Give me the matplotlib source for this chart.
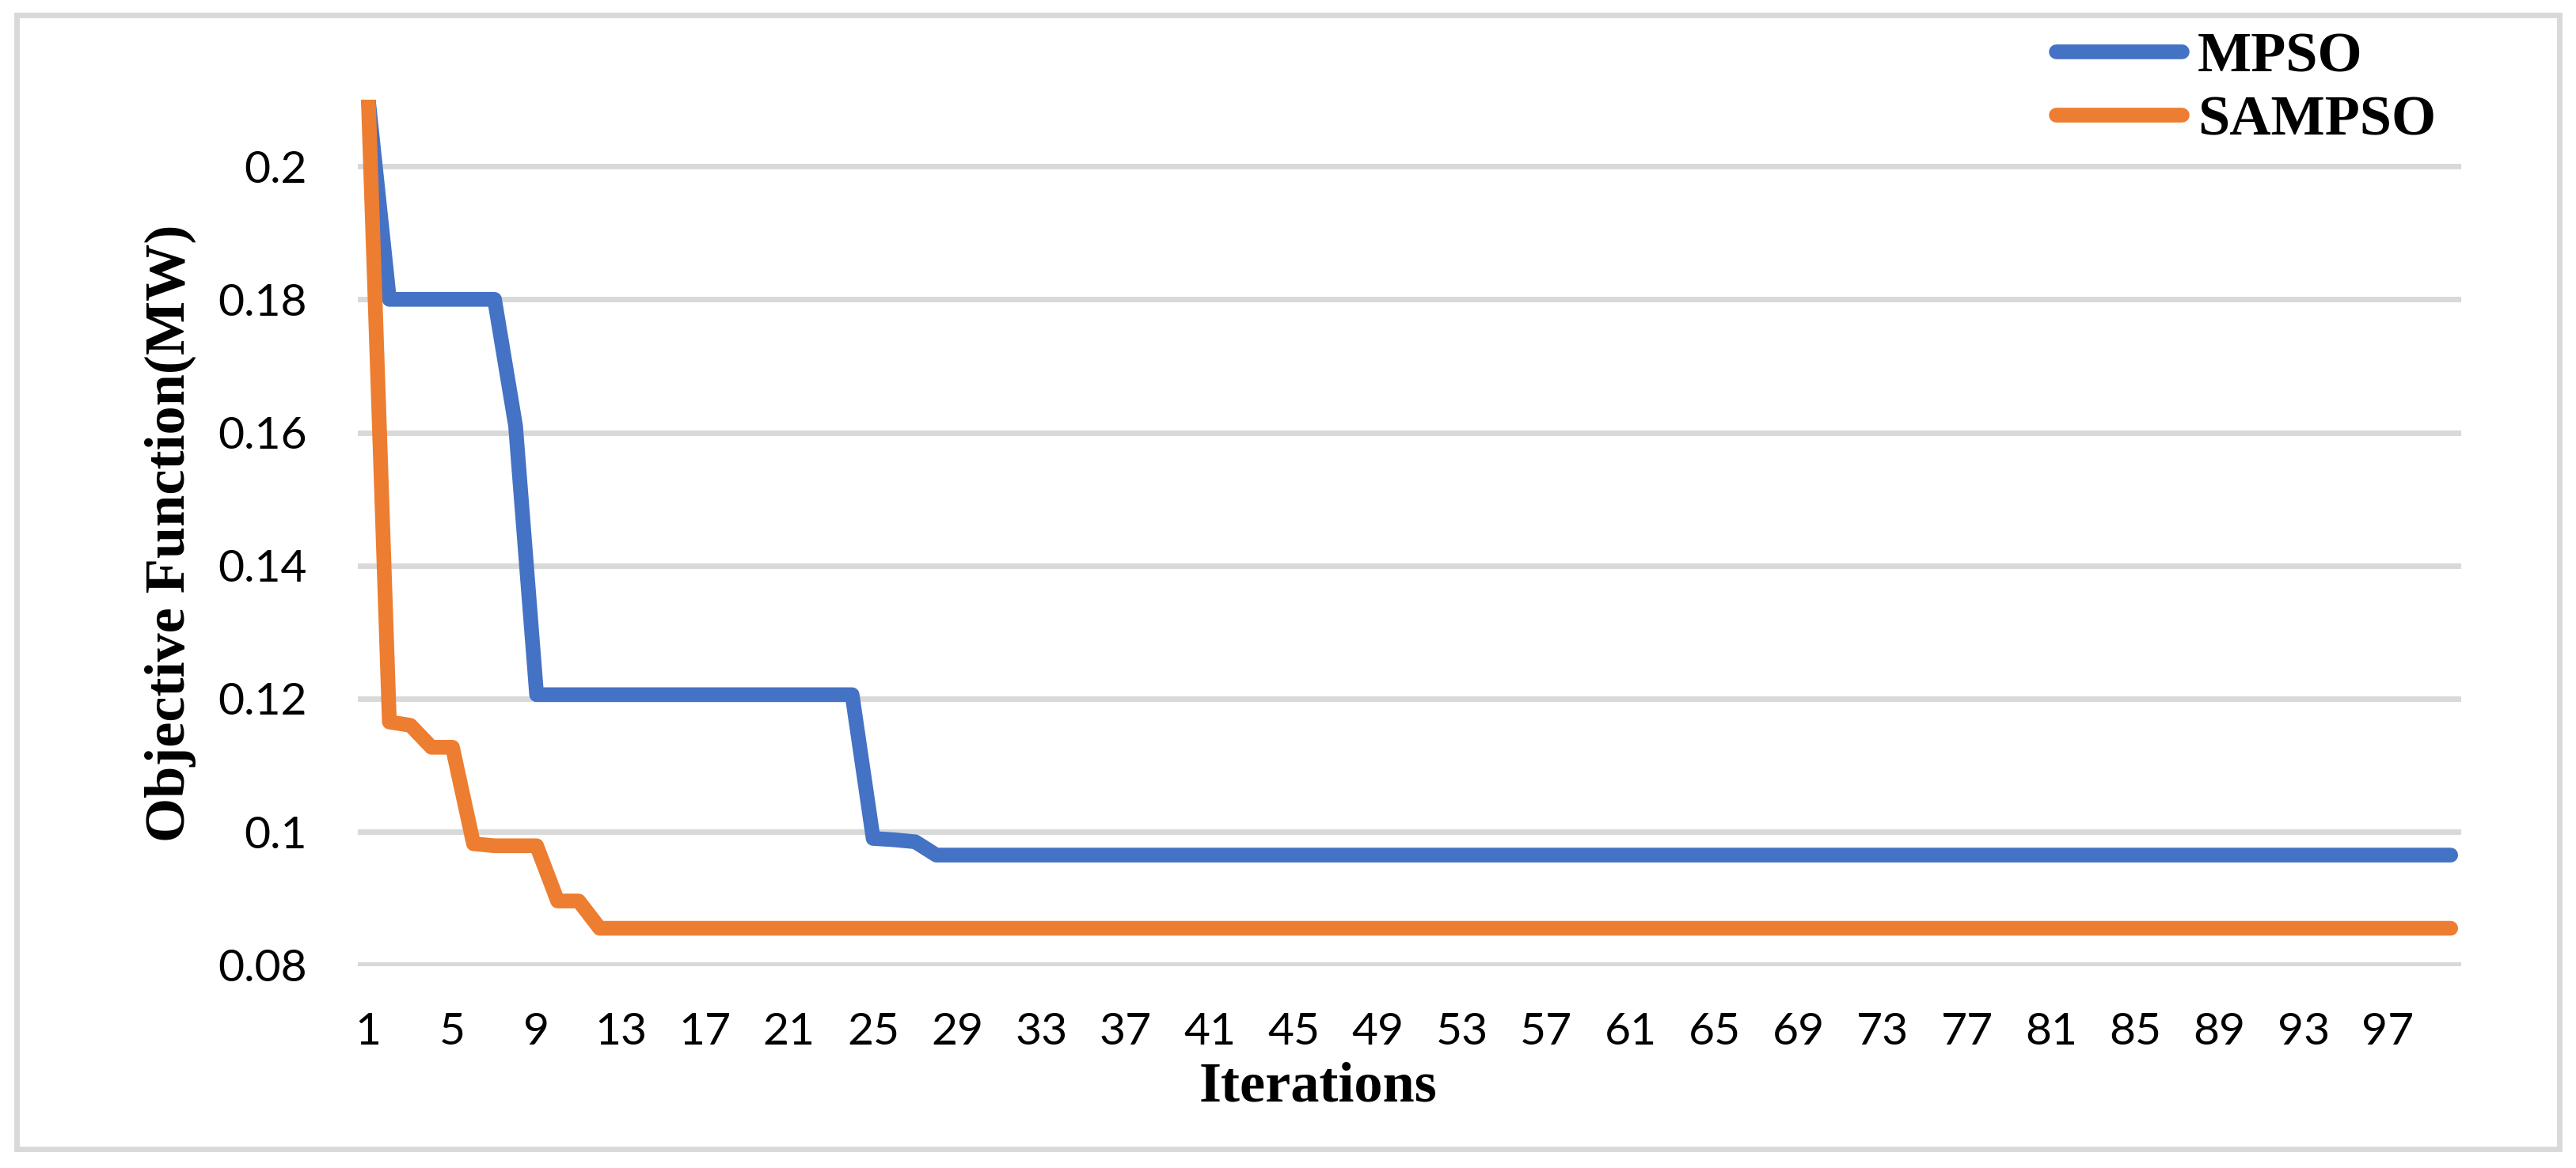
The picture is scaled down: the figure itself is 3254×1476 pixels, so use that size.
import numpy as np
import matplotlib
matplotlib.use("Agg")
import matplotlib.pyplot as plt
from matplotlib.patches import Rectangle

# iteration number (category axis) and best objective value per iteration
iterations = list(range(1, 101))

mpso = [
    0.21, 0.18, 0.18, 0.18, 0.18, 0.18, 0.18, 0.161, 0.1206, 0.1206,
    0.1206, 0.1206, 0.1206, 0.1206, 0.1206, 0.1206, 0.1206, 0.1206, 0.1206, 0.1206,
    0.1206, 0.1206, 0.1206, 0.1206, 0.0990, 0.0988, 0.0985, 0.0965, 0.0965, 0.0965,
    0.0965, 0.0965, 0.0965, 0.0965, 0.0965, 0.0965, 0.0965, 0.0965, 0.0965, 0.0965,
    0.0965, 0.0965, 0.0965, 0.0965, 0.0965, 0.0965, 0.0965, 0.0965, 0.0965, 0.0965,
    0.0965, 0.0965, 0.0965, 0.0965, 0.0965, 0.0965, 0.0965, 0.0965, 0.0965, 0.0965,
    0.0965, 0.0965, 0.0965, 0.0965, 0.0965, 0.0965, 0.0965, 0.0965, 0.0965, 0.0965,
    0.0965, 0.0965, 0.0965, 0.0965, 0.0965, 0.0965, 0.0965, 0.0965, 0.0965, 0.0965,
    0.0965, 0.0965, 0.0965, 0.0965, 0.0965, 0.0965, 0.0965, 0.0965, 0.0965, 0.0965,
    0.0965, 0.0965, 0.0965, 0.0965, 0.0965, 0.0965, 0.0965, 0.0965, 0.0965, 0.0965,
]

sampso = [
    0.21, 0.1165, 0.116, 0.1127, 0.1127, 0.0982, 0.0979, 0.0979, 0.0979, 0.0896,
    0.0896, 0.0855, 0.0855, 0.0855, 0.0855, 0.0855, 0.0855, 0.0855, 0.0855, 0.0855,
    0.0855, 0.0855, 0.0855, 0.0855, 0.0855, 0.0855, 0.0855, 0.0855, 0.0855, 0.0855,
    0.0855, 0.0855, 0.0855, 0.0855, 0.0855, 0.0855, 0.0855, 0.0855, 0.0855, 0.0855,
    0.0855, 0.0855, 0.0855, 0.0855, 0.0855, 0.0855, 0.0855, 0.0855, 0.0855, 0.0855,
    0.0855, 0.0855, 0.0855, 0.0855, 0.0855, 0.0855, 0.0855, 0.0855, 0.0855, 0.0855,
    0.0855, 0.0855, 0.0855, 0.0855, 0.0855, 0.0855, 0.0855, 0.0855, 0.0855, 0.0855,
    0.0855, 0.0855, 0.0855, 0.0855, 0.0855, 0.0855, 0.0855, 0.0855, 0.0855, 0.0855,
    0.0855, 0.0855, 0.0855, 0.0855, 0.0855, 0.0855, 0.0855, 0.0855, 0.0855, 0.0855,
    0.0855, 0.0855, 0.0855, 0.0855, 0.0855, 0.0855, 0.0855, 0.0855, 0.0855, 0.0855,
]

x_ticks = list(range(1, 101, 4))
y_ticks = [0.08, 0.1, 0.12, 0.14, 0.16, 0.18, 0.2]
y_tick_labels = ["0.08", "0.1", "0.12", "0.14", "0.16", "0.18", "0.2"]

BLUE = "#4472C4"
ORANGE = "#ED7D31"
GRID = "#D9D9D9"
SERIF = ["Liberation Serif", "DejaVu Serif"]
TICK_FONT = ["Lato", "DejaVu Sans"]

fig = plt.figure(figsize=(16.275, 7.38), dpi=200)
ax = fig.add_axes([0.13886, 0.17276, 0.81629, 0.74187])

# outer chart border (light grey frame)
fig.patches.append(Rectangle((0.00645, 0.01626), 0.98679, 0.97087,
                             transform=fig.transFigure, fill=False,
                             edgecolor=GRID, linewidth=2.5))

l1, = ax.plot(iterations, mpso, color=BLUE, lw=6.7, label="MPSO",
              solid_joinstyle="round", solid_capstyle="round", zorder=3)
l2, = ax.plot(iterations, sampso, color=ORANGE, lw=6.7, label="SAMPSO",
              solid_joinstyle="round", solid_capstyle="round", zorder=4)

ax.set_xlim(0.5, 100.5)
ax.set_ylim(0.0798, 0.21)
ax.set_xticks(x_ticks)
ax.set_xticklabels([str(t) for t in x_ticks], fontfamily=TICK_FONT, fontsize=20.5)
ax.set_yticks(y_ticks)
ax.set_yticklabels(y_tick_labels, fontfamily=TICK_FONT, fontsize=20.5)
ax.tick_params(axis="both", length=0, colors="black")
ax.tick_params(axis="x", pad=21)
ax.tick_params(axis="y", pad=23)

ax.grid(axis="y", color=GRID, lw=2.5)
ax.set_axisbelow(True)
for s in ax.spines.values():
    s.set_visible(False)

ax.set_ylabel("Objective Function(MW)", fontfamily=SERIF, fontweight="bold",
              fontsize=26, va="center")
ax.yaxis.set_label_coords(-0.0892, 0.5)
ax.set_xlabel("Iterations", fontfamily=SERIF, fontweight="bold",
              fontsize=26, va="baseline")
ax.xaxis.set_label_coords(0.4565, -0.156)

# legend sits top right, partly above the plot area
fig.legend(handles=[l1, l2], loc="upper left",
           bbox_to_anchor=(2597 / 3255, 0.9729), frameon=False,
           prop={"family": SERIF, "weight": "bold", "size": 26},
           handlelength=2.2, handletextpad=0.28, labelspacing=0.2,
           borderpad=0, borderaxespad=0)

fig.savefig("out.png", dpi=200, facecolor="white")
